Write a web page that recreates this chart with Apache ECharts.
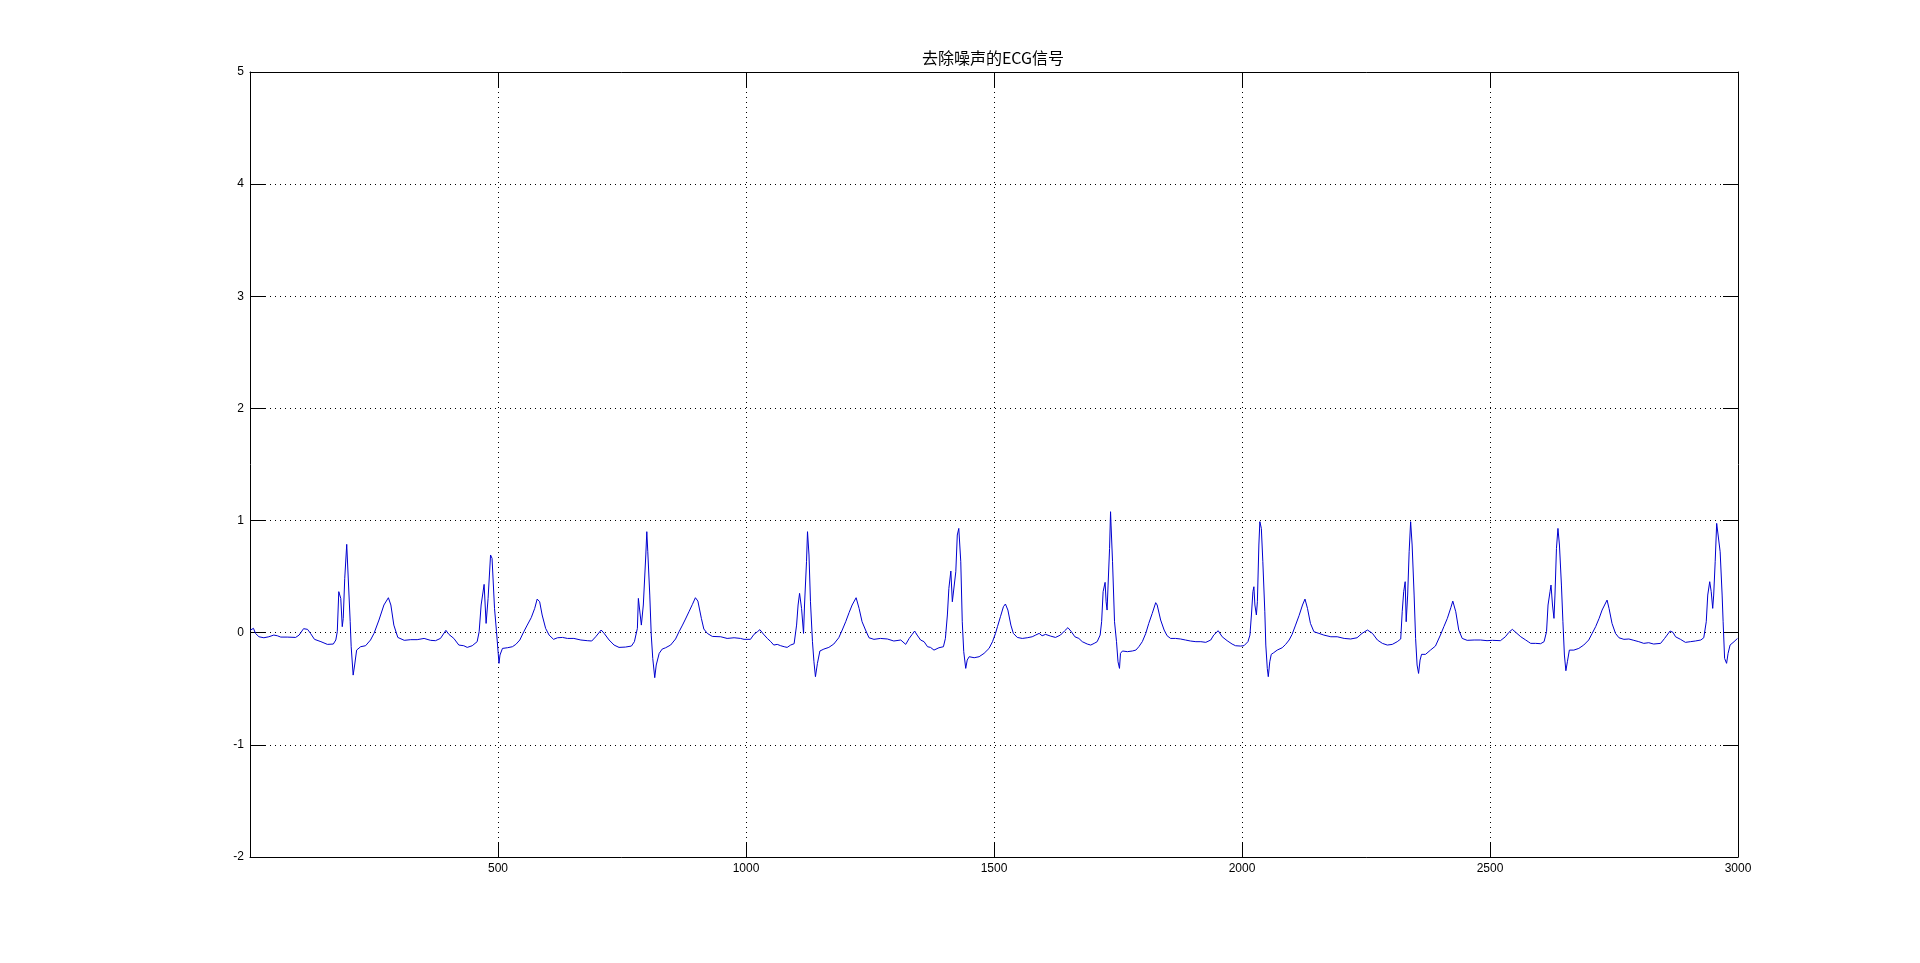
<!DOCTYPE html>
<html>
<head>
<meta charset="utf-8">
<script src="https://cdn.jsdelivr.net/npm/echarts@6/dist/echarts.min.js"></script>
<style>
html,body{margin:0;padding:0;background:#fff;}
#chart{width:1920px;height:963px;}
</style>
</head>
<body>
<div id="chart"></div>
<script>
const titleText = '去除噪声的ECG信号';
const xTicks = [500, 1000, 1500, 2000, 2500, 3000];
const yTicks = [-2, -1, 0, 1, 2, 3, 4, 5];

// [sample index, amplitude], segment by segment
const seg1 = [[1,0.024],[7,0.039],[11,-0.006],[18,-0.036],[28,-0.045],[38,-0.036],[48,-0.021],[55,-0.027],[62,-0.039],[75,-0.039],[92,-0.042],[99,-0.021],[108,0.036],[116,0.030],[122,-0.006],[130,-0.059],[143,-0.080],[156,-0.104],[168,-0.101],[173,-0.065],[176,0.009],[179,0.366],[183,0.306],[186,0.054],[188,0.128],[191,0.485],[195,0.788],[198,0.782],[202,0.098],[204,-0.125],[208,-0.378],[211,-0.288],[215,-0.155],[223,-0.125],[233,-0.116],[243,-0.065],[250,-0.006],[260,0.113],[270,0.247],[279,0.312],[284,0.247],[290,0.068],[298,-0.042],[311,-0.068],[324,-0.062],[337,-0.062],[351,-0.051],[364,-0.068],[374,-0.071],[384,-0.051],[395,0.021],[401,-0.015],[411,-0.051],[421,-0.110],[431,-0.116],[438,-0.131],[448,-0.116],[458,-0.080],[462,0.009],[466,0.247],[472,0.431],[476,0.083],[480,0.306],[485,0.693],[488,0.663],[493,0.217],[497,0.009],[502,-0.273]];
const seg2 = [[504,-0.199],[509,-0.140],[519,-0.134],[529,-0.125],[536,-0.104],[544,-0.065],[552,0.009],[559,0.068],[567,0.134],[574,0.217],[579,0.300],[584,0.276],[589,0.158],[596,0.039],[603,-0.021],[612,-0.059],[620,-0.045],[630,-0.042],[640,-0.051],[653,-0.051],[667,-0.065],[680,-0.071],[689,-0.074],[697,-0.036],[708,0.024],[714,-0.006],[724,-0.065],[734,-0.110],[744,-0.131],[757,-0.128],[769,-0.119],[775,-0.080],[781,0.039],[783,0.306],[786,0.300],[789,0.068],[792,0.083],[793,0.247],[798,0.693],[800,0.901],[802,0.722],[806,0.336],[809,-0.021],[812,-0.229],[816,-0.401],[819,-0.288],[825,-0.184],[831,-0.146],[838,-0.134],[848,-0.110],[858,-0.056],[865,0.009],[872,0.068],[878,0.122],[885,0.187],[892,0.253],[898,0.312],[903,0.282],[910,0.128],[915,0.033],[922,-0.006],[932,-0.033],[949,-0.036],[962,-0.051],[976,-0.045],[989,-0.051]];
const seg3 = [[996,-0.059],[1009,-0.059],[1016,-0.015],[1023,0.009],[1028,0.027],[1035,-0.012],[1043,-0.051],[1050,-0.080],[1056,-0.110],[1063,-0.104],[1070,-0.116],[1077,-0.125],[1083,-0.131],[1090,-0.110],[1097,-0.098],[1102,0.068],[1105,0.247],[1108,0.351],[1112,0.217],[1116,-0.006],[1118,0.247],[1122,0.633],[1124,0.901],[1127,0.693],[1130,0.276],[1134,-0.080],[1137,-0.259],[1140,-0.392],[1144,-0.273],[1149,-0.163],[1157,-0.146],[1167,-0.131],[1177,-0.101],[1187,-0.045],[1194,0.024],[1201,0.098],[1208,0.181],[1214,0.247],[1222,0.312],[1228,0.217],[1234,0.098],[1241,0.024],[1248,-0.045],[1258,-0.059],[1271,-0.051],[1285,-0.056],[1298,-0.074],[1312,-0.065],[1322,-0.104],[1329,-0.051],[1335,-0.015],[1340,0.015],[1345,-0.021],[1352,-0.065],[1359,-0.080],[1366,-0.125],[1372,-0.131],[1379,-0.155],[1389,-0.134],[1398,-0.125],[1402,-0.051],[1406,0.158],[1409,0.395],[1413,0.550],[1416,0.276],[1419,0.282],[1423,0.544],[1426,0.871],[1429,0.930],[1433,0.633],[1436,0.098],[1439,-0.169],[1443,-0.318],[1446,-0.244],[1450,-0.214],[1460,-0.223],[1470,-0.214],[1480,-0.184],[1490,-0.140],[1497,-0.080],[1503,-0.006]];
const seg4 = [[1507,0.054],[1513,0.143],[1519,0.232],[1523,0.256],[1528,0.202],[1534,0.068],[1539,-0.006],[1547,-0.042],[1557,-0.051],[1567,-0.045],[1577,-0.036],[1584,-0.021],[1591,-0.006],[1597,-0.027],[1604,-0.015],[1614,-0.030],[1624,-0.042],[1634,-0.021],[1642,0.015],[1649,0.045],[1656,0.009],[1663,-0.036],[1671,-0.051],[1678,-0.080],[1688,-0.101],[1695,-0.110],[1702,-0.095],[1708,-0.080],[1714,-0.021],[1717,0.098],[1720,0.366],[1724,0.449],[1726,0.276],[1728,0.202],[1730,0.425],[1733,0.752],[1735,1.079],[1736,0.960],[1739,0.633],[1743,0.098],[1747,-0.080],[1750,-0.259],[1753,-0.318],[1755,-0.184],[1759,-0.163],[1769,-0.169],[1779,-0.163],[1786,-0.155],[1792,-0.125],[1799,-0.080],[1806,-0.006],[1812,0.083],[1819,0.172],[1826,0.268],[1829,0.247],[1836,0.113],[1843,0.024],[1849,-0.027],[1856,-0.051],[1866,-0.051],[1876,-0.056],[1886,-0.065],[1896,-0.074],[1907,-0.080],[1917,-0.080],[1927,-0.086],[1937,-0.065],[1943,-0.021],[1952,0.018],[1960,-0.036],[1970,-0.071],[1980,-0.101],[1987,-0.116],[1997,-0.119]];
const seg5 = [[2004,-0.116],[2012,-0.080],[2016,-0.021],[2019,0.158],[2022,0.366],[2024,0.410],[2026,0.247],[2029,0.158],[2031,0.276],[2034,0.782],[2036,0.990],[2039,0.930],[2042,0.633],[2046,0.187],[2048,-0.110],[2051,-0.318],[2053,-0.392],[2056,-0.259],[2059,-0.193],[2064,-0.178],[2071,-0.155],[2081,-0.134],[2088,-0.104],[2095,-0.065],[2101,-0.015],[2108,0.068],[2115,0.152],[2122,0.247],[2127,0.300],[2132,0.217],[2138,0.083],[2145,0.009],[2155,-0.006],[2165,-0.021],[2179,-0.036],[2192,-0.036],[2206,-0.051],[2219,-0.056],[2232,-0.045],[2242,-0.006],[2253,0.024],[2263,-0.006],[2273,-0.065],[2283,-0.095],[2293,-0.110],[2303,-0.104],[2313,-0.080],[2320,-0.056],[2323,0.187],[2326,0.366],[2329,0.455],[2331,0.098],[2334,0.336],[2337,0.722],[2340,0.990],[2343,0.782],[2347,0.336],[2350,-0.051],[2353,-0.288],[2356,-0.363],[2359,-0.244],[2362,-0.193],[2370,-0.193],[2380,-0.155],[2390,-0.119],[2400,-0.021],[2407,0.054],[2414,0.128],[2421,0.223],[2425,0.282],[2431,0.187],[2437,0.024],[2444,-0.051],[2454,-0.068],[2468,-0.065],[2481,-0.065],[2494,-0.071],[2505,-0.068]];
const seg6 = [[2508,-0.071],[2521,-0.071],[2531,-0.036],[2538,0.003],[2545,0.030],[2552,0.003],[2562,-0.036],[2572,-0.065],[2577,-0.080],[2582,-0.095],[2592,-0.095],[2602,-0.098],[2609,-0.080],[2614,0.009],[2617,0.247],[2621,0.366],[2623,0.425],[2626,0.247],[2629,0.128],[2631,0.336],[2634,0.752],[2637,0.930],[2640,0.782],[2644,0.425],[2647,0.098],[2650,-0.199],[2653,-0.339],[2656,-0.259],[2660,-0.155],[2669,-0.155],[2679,-0.140],[2689,-0.110],[2699,-0.065],[2706,-0.006],[2713,0.054],[2720,0.128],[2726,0.202],[2736,0.291],[2740,0.217],[2746,0.083],[2753,-0.006],[2760,-0.045],[2770,-0.059],[2780,-0.056],[2790,-0.068],[2800,-0.080],[2810,-0.095],[2820,-0.089],[2830,-0.101],[2844,-0.095],[2852,-0.051],[2857,-0.021],[2863,0.015],[2869,0.003],[2874,-0.036],[2884,-0.059],[2894,-0.086],[2904,-0.080],[2914,-0.074],[2925,-0.065],[2931,-0.045],[2936,0.098],[2939,0.336],[2943,0.455],[2946,0.366],[2949,0.217],[2951,0.336],[2954,0.633],[2957,0.975],[2960,0.960],[2964,0.722],[2968,0.336],[2970,0.098],[2973,-0.229],[2977,-0.273],[2980,-0.184],[2984,-0.110],[2992,-0.080],[2999,-0.051]];

const ecgData = [].concat(seg1, seg2, seg3, seg4, seg5, seg6);

const labelFont = { color: '#000', fontSize: 12, fontFamily: 'Liberation Sans, Arial, sans-serif' };
const gridDots = { show: true, lineStyle: { color: '#000', width: 1, type: [1, 4] } };
const tickIn = { show: true, inside: true, length: 15, lineStyle: { color: '#000', width: 1 } };
const axLine = { show: true, onZero: false, lineStyle: { color: '#000', width: 1 } };

const chart = echarts.init(document.getElementById('chart'), null, { renderer: 'canvas' });
chart.setOption({
  backgroundColor: '#ffffff',
  animation: false,
  title: {
    text: titleText,
    left: 988,
    textAlign: 'center',
    top: 45,
    textStyle: { color: '#000', fontSize: 16, fontWeight: 'normal', fontFamily: 'Noto Sans CJK SC, sans-serif' }
  },
  grid: { left: 250, right: 182, top: 72, bottom: 106, show: false },
  xAxis: [
    {
      type: 'value', position: 'bottom', min: 0, max: 3000, interval: 500,
      axisLine: axLine, axisTick: tickIn, splitLine: gridDots,
      axisLabel: Object.assign({ margin: 6, formatter: v => (xTicks.indexOf(v) >= 0 ? String(v) : '') }, labelFont)
    },
    {
      type: 'value', position: 'top', min: 0, max: 3000, interval: 500,
      axisLine: axLine, axisTick: tickIn, splitLine: { show: false }, axisLabel: { show: false }
    }
  ],
  yAxis: [
    {
      type: 'value', position: 'left', min: yTicks[0], max: yTicks[yTicks.length - 1], interval: 1,
      axisLine: axLine, axisTick: tickIn, splitLine: gridDots,
      axisLabel: Object.assign({ margin: 6 }, labelFont)
    },
    {
      type: 'value', position: 'right', min: yTicks[0], max: yTicks[yTicks.length - 1], interval: 1,
      axisLine: axLine, axisTick: tickIn, splitLine: { show: false }, axisLabel: { show: false }
    }
  ],
  series: [{
    type: 'line',
    xAxisIndex: 0, yAxisIndex: 0,
    data: ecgData,
    showSymbol: false,
    symbol: 'none',
    smooth: false,
    lineStyle: { color: '#0000d0', width: 1 },
    itemStyle: { color: '#0000d0' }
  }]
});
</script>
</body>
</html>
